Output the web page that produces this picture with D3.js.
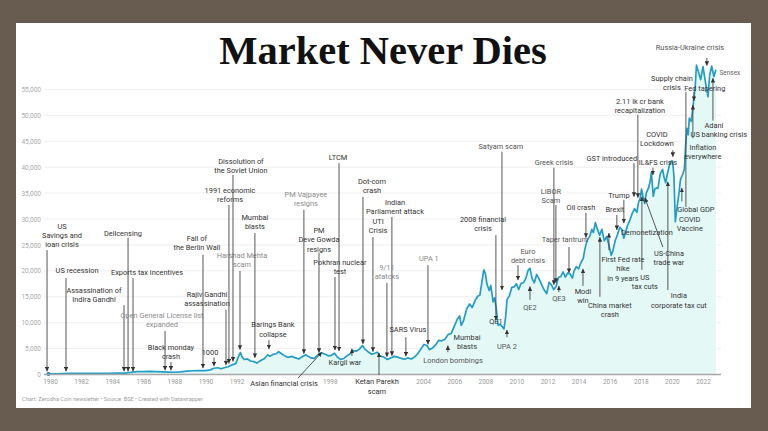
<!DOCTYPE html>
<html>
<head>
<meta charset="utf-8">
<script src="https://cdn.jsdelivr.net/npm/d3@7"></script>
<style>
html,body{margin:0;padding:0;background:#675c4f;}
svg{display:block;}
</style>
</head>
<body>
<svg id="chart" width="768" height="431"></svg>
<script>
// ---- data ----
const dates = [1979.9,1980.3,1980.8,1981.3,1981.8,1982.3,1982.8,1983.3,1983.8,1984.3,1984.8,1985.2,1985.6,1986.0,1986.4,1986.8,1987.2,1987.6,1988.0,1988.4,1988.8,1989.2,1989.6,1990.0,1990.3,1990.55,1990.8,1991.0,1991.2,1991.45,1991.7,1991.95,1992.1,1992.25,1992.35,1992.5,1992.7,1992.9,1993.1,1993.3,1993.55,1993.8,1994.0,1994.15,1994.35,1994.55,1994.7,1994.9,1995.1,1995.3,1995.55,1995.8,1996.0,1996.2,1996.45,1996.6,1996.8,1997.0,1997.2,1997.45,1997.7,1997.9,1998.1,1998.3,1998.5,1998.7,1998.9,1999.1,1999.3,1999.5,1999.7,1999.9,2000.1,2000.25,2000.45,2000.7,2000.9,2001.05,2001.2,2001.45,2001.7,2001.9,2002.15,2002.4,2002.6,2002.8,2003.0,2003.25,2003.45,2003.65,2003.85,2004.05,2004.25,2004.4,2004.6,2004.8,2005.0,2005.2,2005.4,2005.6,2005.8,2006.0,2006.2,2006.35,2006.45,2006.6,2006.8,2007.0,2007.15,2007.35,2007.5,2007.65,2007.75,2007.9,2008.0,2008.1,2008.25,2008.35,2008.5,2008.6,2008.7,2008.82,2008.95,2009.1,2009.2,2009.3,2009.4,2009.55,2009.7,2009.85,2010.0,2010.15,2010.3,2010.45,2010.6,2010.75,2010.87,2011.0,2011.15,2011.3,2011.45,2011.6,2011.75,2011.95,2012.1,2012.25,2012.4,2012.55,2012.7,2012.85,2013.0,2013.15,2013.3,2013.45,2013.6,2013.7,2013.85,2014.0,2014.15,2014.3,2014.4,2014.55,2014.7,2014.85,2014.95,2015.08,2015.2,2015.35,2015.5,2015.65,2015.8,2015.95,2016.1,2016.2,2016.35,2016.5,2016.65,2016.8,2016.9,2017.0,2017.15,2017.3,2017.45,2017.6,2017.75,2017.85,2017.95,2018.05,2018.15,2018.25,2018.35,2018.5,2018.6,2018.68,2018.8,2018.9,2019.0,2019.1,2019.25,2019.4,2019.5,2019.6,2019.7,2019.85,2019.95,2020.05,2020.13,2020.22,2020.32,2020.45,2020.55,2020.7,2020.8,2020.88,2020.97,2021.05,2021.12,2021.25,2021.38,2021.5,2021.58,2021.7,2021.85,2022.0,2022.15,2022.32,2022.43,2022.56,2022.7,2022.83];
const sensex = [120,130,150,200,230,210,220,230,220,250,280,400,550,570,620,560,520,470,430,520,650,720,760,750,900,1200,1300,1100,1300,1500,1850,2100,3300,4250,3400,2900,3000,2600,2500,2200,2700,3100,3800,3500,3900,4000,4400,4000,3600,3300,3500,3200,3000,3400,3800,3500,3200,3100,3700,4200,3900,3600,3700,4100,3300,2900,3100,3600,4000,4600,4500,4900,5600,4900,4400,3900,4100,4300,3600,3400,2900,3200,3500,3300,3100,2950,3200,3000,3400,4000,4900,5800,5600,4800,5100,5700,6600,6500,6800,7700,7900,9300,10700,11300,9500,10400,12700,13600,12900,14300,15100,15300,17300,20200,19500,17500,16200,17200,14000,14800,12800,9500,9700,9200,8800,11000,14500,15200,16800,16900,17500,16400,17600,17700,18500,20100,20500,18600,17700,19300,18500,17500,16500,15600,17800,17300,16400,17000,18700,18900,19800,18800,19600,19400,18600,19900,20800,20400,21600,22400,24200,25900,26600,28000,27400,29300,28100,26900,28000,25800,26600,25000,23000,23800,25800,27000,28400,27900,26300,27200,28800,29800,31100,32000,31300,33200,33900,35800,34200,33000,35000,36000,37300,39000,34400,35800,36000,35900,38700,39600,38000,37000,38600,40500,41200,41000,38300,29500,32000,34900,37600,38700,39600,44100,47500,46300,49500,48800,52400,55600,59700,58500,56900,59400,56500,53600,57800,59500,57500,58800];
// year labels visible in the reference (1994, 1996, 2000, 2002 are covered by annotations there)
const yearTicks = [1980,1982,1984,1986,1988,1990,1992,1998,2004,2006,2008,2010,2012,2014,2016,2018,2020,2022];
const valueTicks = [0,5000,10000,15000,20000,25000,30000,35000,40000,45000,50000,55000];
// annotations: label year/value(thousands), arrow year and from/to values (thousands)
const notes = [
 {t:["US","Savings and","loan crisis"], lx:1980.77, ly:28.7, ax:1979.81, a1:24.0, a2:0.6, c:"d"},
 {t:["US recession"], lx:1981.74, ly:20.2, ax:1981.03, a1:18.6, a2:0.6, c:"d"},
 {t:["Delicensing"], lx:1984.69, ly:27.3, ax:1985.02, a1:26.4, a2:0.6, c:"d"},
 {t:["Exports tax incentives"], lx:1986.24, ly:19.8, ax:1985.34, a1:18.6, a2:0.6, c:"d"},
 {t:["Assassination of","Indira Gandhi"], lx:1982.83, ly:16.3, ax:1984.76, a1:13.4, a2:0.6, c:"d"},
 {t:["Open General License list","expanded"], lx:1987.2, ly:11.5, ax:1987.4, a1:8.4, a2:0.8, c:"l"},
 {t:["Black monday","crash"], lx:1987.78, ly:5.3, ax:1987.78, a1:2.4, a2:0.8, c:"d"},
 {t:["Fall of","the Berlin Wall"], lx:1989.45, ly:26.4, ax:1989.84, a1:23.1, a2:1.2, c:"d"},
 {t:["Harshad Mehta","scam"], lx:1992.35, ly:23.1, ax:1992.22, a1:20.0, a2:4.8, c:"l"},
 {t:["Rajiv Gandhi","assassination"], lx:1990.1, ly:15.5, ax:1991.32, a1:12.5, a2:1.8, c:"d"},
 {t:["1000"], lx:1990.29, ly:4.3, ax:1990.55, a1:3.3, a2:1.6, c:"d"},
 {t:["1991 economic","reforms"], lx:1991.58, ly:35.6, ax:1991.51, a1:32.7, a2:2.1, c:"d"},
 {t:["Dissolution of","the Soviet Union"], lx:1992.28, ly:41.2, ax:1991.77, a1:38.5, a2:2.5, c:"d"},
 {t:["Mumbai","blasts"], lx:1993.18, ly:30.4, ax:1993.18, a1:27.3, a2:3.2, c:"d"},
 {t:["Barings Bank","collapse"], lx:1994.34, ly:9.7, ax:1994.08, a1:6.7, a2:4.9, c:"d"},
 {t:["PM Vajpayee","resigns"], lx:1996.46, ly:34.8, ax:1996.33, a1:31.8, a2:4.0, c:"l"},
 {t:["PM","Deve Gowda","resigns"], lx:1997.3, ly:27.9, ax:1997.3, a1:23.5, a2:4.2, c:"d"},
 {t:["LTCM"], lx:1998.52, ly:42.0, ax:1998.59, a1:40.8, a2:4.5, c:"d"},
 {t:["Pokhran nuclear","test"], lx:1998.65, ly:21.7, ax:1998.33, a1:18.8, a2:4.7, c:"d"},
 {t:["Dot-com","crash"], lx:2000.71, ly:37.4, ax:2000.13, a1:34.3, a2:5.9, c:"d"},
 {t:["Indian","Parliament attack"], lx:2002.19, ly:33.3, ax:2001.99, a1:30.4, a2:3.6, c:"d"},
 {t:["UTI","Crisis"], lx:2001.1, ly:29.6, ax:2000.77, a1:26.5, a2:4.4, c:"d"},
 {t:["9/11","atatcks"], lx:2001.67, ly:20.8, ax:2001.67, a1:17.7, a2:3.4, c:"l"},
 {t:["SARS Virus"], lx:2003.02, ly:8.8, ax:2002.89, a1:7.2, a2:3.5, c:"d"},
 {t:["UPA 1"], lx:2004.37, ly:22.5, ax:2004.31, a1:21.1, a2:5.8, c:"l"},
 {t:["Kargil war"], lx:1998.97, ly:2.4, ax:1999.42, a1:3.6, a2:5.0, c:"d"},
 {t:["Asian financial crisis"], lx:1995.05, ly:-1.6, ax:1995.95, a1:-0.7, ax2:1997.49, a2:4.3, c:"d"},
 {t:["Ketan Parekh","scam"], lx:2001.03, ly:-1.3, ax:2001.16, a1:-0.1, a2:4.2, c:"d"},
 {t:["London bombings"], lx:2005.92, ly:2.8, ax:2005.59, a1:4.3, a2:5.6, c:"m"},
 {t:["Mumbai","blasts"], lx:2006.82, ly:7.2, c:"d"},
 {t:["2008 financial","crisis"], lx:2007.85, ly:30.0, ax:2008.68, a1:26.9, a2:10.5, c:"d"},
 {t:["Satyam scam"], lx:2009.0, ly:44.1, ax:2009.07, a1:43.0, a2:16.3, c:"m"},
 {t:["QE1"], lx:2008.68, ly:10.3, c:"d"},
 {t:["UPA 2"], lx:2009.39, ly:5.5, ax:2009.39, a1:7.2, a2:8.6, c:"m"},
 {t:["Euro","debt crisis"], lx:2010.74, ly:23.8, ax:2010.10, a1:21.1, a2:18.2, c:"m"},
 {t:["QE2"], lx:2010.87, ly:13.0, ax:2010.87, a1:14.4, a2:17.0, c:"m"},
 {t:["Greek crisis"], lx:2012.41, ly:41.0, ax:2012.41, a1:39.9, a2:17.3, c:"m"},
 {t:["LIBOR","Scam"], lx:2012.22, ly:35.4, ax:2012.54, a1:32.7, a2:17.7, c:"m"},
 {t:["QE3"], lx:2012.73, ly:14.8, ax:2012.73, a1:15.9, a2:17.1, c:"m"},
 {t:["Taper tantrum"], lx:2013.12, ly:26.2, ax:2013.38, a1:24.6, a2:19.6, c:"m"},
 {t:["Oil crash"], lx:2014.15, ly:32.3, ax:2014.47, a1:31.2, a2:26.4, c:"d"},
 {t:["Modi","win"], lx:2014.28, ly:16.1, ax:2014.28, a1:17.1, a2:20.4, c:"d"},
 {t:["China market","crash"], lx:2016.01, ly:13.4, ax:2015.37, a1:15.0, a2:26.5, c:"d"},
 {t:["First Fed rate","hike","in 9 years"], lx:2016.85, ly:22.3, ax:2015.95, a1:24.0, a2:27.3, c:"d"},
 {t:["Brexit"], lx:2016.33, ly:32.0, ax:2016.46, a1:30.8, a2:27.9, c:"d"},
 {t:["Trump"], lx:2016.59, ly:34.7, ax:2016.91, a1:33.7, a2:29.2, c:"d"},
 {t:["Demonetization"], lx:2018.39, ly:27.5, c:"d"},
 {t:["US","tax cuts"], lx:2018.26, ly:18.8, ax:2018.07, a1:20.2, a2:34.3, c:"d"},
 {t:["US-China","trade war"], lx:2019.81, ly:23.5, ax:2019.42, a1:24.6, ax2:2018.26, a2:34.1, c:"d"},
 {t:["India","corporate tax cut"], lx:2020.45, ly:15.3, ax:2019.74, a1:16.3, a2:37.2, c:"d"},
 {t:["GST introduced"], lx:2016.14, ly:41.8, ax:2017.56, a1:40.8, a2:34.3, c:"d"},
 {t:["2.11 lk cr bank","recapitalization"], lx:2017.94, ly:52.8, ax:2017.81, a1:50.1, a2:34.1, c:"d"},
 {t:["IL&FS crisis"], lx:2019.10, ly:41.0, ax:2018.78, a1:39.9, a2:38.5, c:"d"},
 {t:["COVID","Lockdown"], lx:2019.04, ly:46.4, ax:2020.06, a1:43.3, a2:42.0, c:"d"},
 {t:["Supply chain","crisis"], lx:2020.0, ly:57.2, ax:2020.90, a1:54.5, a2:32.3, c:"d", noHead:true},
 {t:["Fed tapering"], lx:2022.12, ly:55.3, ax:2021.42, a1:54.5, a2:52.8, c:"d"},
 {t:["Inflation","everywhere"], lx:2021.99, ly:43.9, ax:2021.35, a1:45.6, a2:52.0, c:"d"},
 {t:["Adani"], lx:2022.70, ly:48.1, ax:2022.64, a1:49.0, a2:57.2, c:"d"},
 {t:["US banking crisis"], lx:2023.02, ly:46.4, c:"d"},
 {t:["Russia-Ukraine crisis"], lx:2021.16, ly:63.2, ax:2022.25, a1:61.1, a2:59.6, c:"m"},
 {t:["Global GDP"], lx:2021.54, ly:32.0, ax:2020.64, a1:33.4, a2:36.0, c:"d"},
 {t:["COVID","Vaccine"], lx:2021.15, ly:30.0, c:"d"}
];

// ---- drawing ----
const svg = d3.select("#chart");
const FONT = "Roboto, 'Open Sans', 'Noto Sans', sans-serif";
const colors = {d:"#333333", m:"#555555", l:"#8a8a8a"};

svg.append("rect").attr("x",16).attr("y",23).attr("width",735).attr("height",385).attr("fill","#ffffff");

const x = d3.scaleLinear().domain([1980, 2022]).range([50, 703]);
const y = d3.scaleLinear().domain([0, 55000]).range([374.5, 89.5]);

// gridlines
svg.append("g")
  .selectAll("line").data(valueTicks.filter(v => v > 0)).join("line")
  .attr("x1",44).attr("x2",721)
  .attr("y1",d=>y(d)).attr("y2",d=>y(d))
  .attr("stroke","#ececec").attr("stroke-width",0.8);

// y axis labels
const yAxis = d3.axisLeft(y).tickValues(valueTicks).tickSize(0).tickPadding(3).tickFormat(d3.format(","));
const gy = svg.append("g").attr("transform","translate(44,0)").call(yAxis);
gy.select(".domain").remove();
gy.selectAll("text").attr("fill","#aaaaaa").style("font-family",FONT).style("font-size","6.5px");

// area + line
const pts = dates.map((d,i)=>({d, v:sensex[i]}));
const area = d3.area().x(p=>x(p.d)).y0(y(0)).y1(p=>y(p.v));
svg.append("path").datum(pts).attr("d",area).attr("fill","#e4f9f6");
const line = d3.line().x(p=>x(p.d)).y(p=>y(p.v));
svg.append("path").datum(pts).attr("d",line).attr("fill","none")
  .attr("stroke","#229dc6").attr("stroke-width",1.7).attr("stroke-linejoin","round");
svg.append("circle").attr("cx",x(dates[0])).attr("cy",y(sensex[0])).attr("r",2).attr("fill","#1f7fa8");

// baseline
svg.append("line").attr("x1",44).attr("x2",721).attr("y1",y(0)).attr("y2",y(0))
  .attr("stroke","#a8a8a8").attr("stroke-width",1.4);

// x axis labels
const xAxis = d3.axisBottom(x).tickValues(yearTicks).tickSize(0).tickPadding(5).tickFormat(d3.format("d"));
const gx = svg.append("g").attr("transform",`translate(0,${y(0)})`).call(xAxis);
gx.select(".domain").remove();
gx.selectAll("text").attr("fill","#9a9a9a").style("font-family",FONT).style("font-size","6.5px");

// arrow marker
const defs = svg.append("defs");
defs.append("marker").attr("id","ah").attr("viewBox","0 0 6 6").attr("refX",6).attr("refY",3)
  .attr("markerWidth",4.5).attr("markerHeight",4.5).attr("markerUnits","userSpaceOnUse").attr("orient","auto")
  .append("path").attr("d","M0,0L6,3L0,6Z").attr("fill","#333");

// annotations
const ag = svg.append("g");
notes.forEach(n => {
  if (n.ax !== undefined) {
    const l = ag.append("line")
      .attr("x1", x(n.ax)).attr("y1", y(n.a1*1000))
      .attr("x2", x(n.ax2 !== undefined ? n.ax2 : n.ax)).attr("y2", y(n.a2*1000))
      .attr("stroke","#444").attr("stroke-width",0.9);
    if (!n.noHead) l.attr("marker-end","url(#ah)");
  }
  const tx = ag.append("text")
    .attr("x", x(n.lx)).attr("y", y(n.ly*1000))
    .attr("text-anchor","middle").attr("dominant-baseline","central")
    .attr("fill", colors[n.c]).style("font-family",FONT).style("font-size","7.4px");
  n.t.forEach((s,i) => tx.append("tspan").attr("x", x(n.lx)).attr("dy", i===0 ? 0 : 9.3).text(s));
});

// series label
svg.append("text").attr("x",x(2023.73)).attr("y",y(58200)).attr("text-anchor","middle")
  .attr("dominant-baseline","central").attr("fill","#666").style("font-family",FONT).style("font-size","6.5px").text("Sensex");

// title
svg.append("text").attr("x",383).attr("y",64).attr("text-anchor","middle")
  .attr("fill","#111").style("font-family","'Liberation Serif','Times New Roman',serif")
  .style("font-weight","bold").style("font-size","40.5px").text("Market Never Dies");

// source
svg.append("text").attr("x",22).attr("y",401).attr("fill","#a0a0a0")
  .style("font-family",FONT).style("font-size","5.6px")
  .text("Chart: Zerodha Coin newsletter • Source: BSE • Created with Datawrapper");
</script>
</body>
</html>
